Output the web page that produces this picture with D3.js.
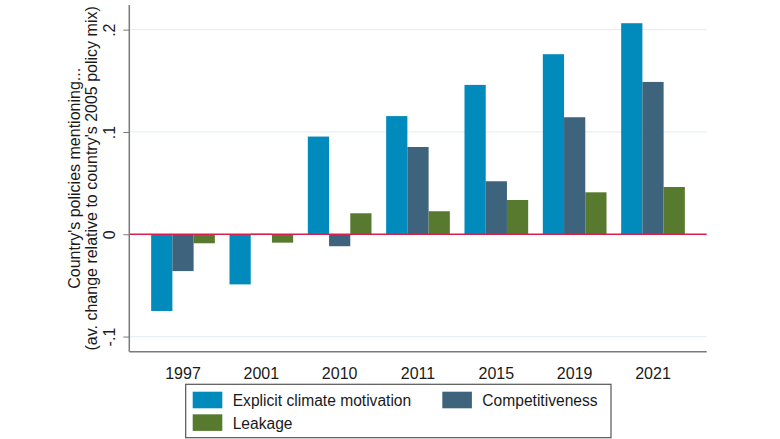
<!DOCTYPE html>
<html>
<head>
<meta charset="utf-8">
<script src="https://cdn.jsdelivr.net/npm/d3@7"></script>
<style>
  body { margin: 0; background: #fff; }
  text { font-family: "Liberation Sans", Arial, sans-serif; fill: #1a1a1a; }
</style>
</head>
<body>
<div id="chart"></div>
<script>
var years = ["1997", "2001", "2010", "2011", "2015", "2019", "2021"];
var seriesNames = ["Explicit climate motivation", "Competitiveness", "Leakage"];
var explicitVals = [-0.075, -0.049, 0.0955, 0.1155, 0.146, 0.176, 0.2063];
var competVals = [-0.036, 0.0005, -0.0117, 0.0853, 0.0518, 0.1144, 0.1489];
var leakageVals = [-0.0088, -0.0082, 0.0205, 0.0225, 0.0335, 0.041, 0.0462];
var yTicks = [-0.1, 0, 0.1, 0.2];
var yTickLabels = ["-.1", "0", ".1", ".2"];
var colors = ["#008bbc", "#3e647d", "#587a2f"];

var width = 780, height = 439;
var plotLeft = 129.3, plotRight = 706.7, plotTop = 5, plotBottom = 351.7;

var svg = d3.select("#chart").append("svg")
  .attr("width", width)
  .attr("height", height);

var y = d3.scaleLinear()
  .domain([-0.1148, 0.2241])
  .range([plotBottom, plotTop]);

var x = d3.scaleBand()
  .domain(years)
  .range([plotLeft, plotRight])
  .paddingInner(0.187)
  .paddingOuter(0.279);

var xs = d3.scaleBand()
  .domain(seriesNames)
  .range([0, x.bandwidth()]);

var allVals = [explicitVals, competVals, leakageVals];
var rows = [];
years.forEach(function(yr, i) {
  seriesNames.forEach(function(s, j) {
    rows.push({year: yr, series: s, idx: j, value: allVals[j][i]});
  });
});

// grid lines
svg.append("g").selectAll("line")
  .data(yTicks.filter(function(d) { return d !== 0; }))
  .enter().append("line")
  .attr("x1", plotLeft).attr("x2", plotRight)
  .attr("y1", function(d) { return y(d); })
  .attr("y2", function(d) { return y(d); })
  .attr("stroke", "#e6f0f2")
  .attr("stroke-width", 1.2);

// bars
svg.append("g").selectAll("rect")
  .data(rows)
  .enter().append("rect")
  .attr("x", function(d) { return x(d.year) + xs(d.series); })
  .attr("width", xs.bandwidth())
  .attr("y", function(d) { return y(Math.max(0, d.value)); })
  .attr("height", function(d) { return Math.abs(y(d.value) - y(0)); })
  .attr("fill", function(d) { return colors[d.idx]; });

// zero line
svg.append("line")
  .attr("x1", plotLeft).attr("x2", plotRight)
  .attr("y1", y(0)).attr("y2", y(0))
  .attr("stroke", "#d81f4f")
  .attr("stroke-width", 1.3);

// y axis
var yAxis = d3.axisLeft(y)
  .tickValues(yTicks)
  .tickSize(6)
  .tickFormat(function(d, i) { return yTickLabels[i]; });
var ya = svg.append("g")
  .attr("transform", "translate(" + plotLeft + ",0)")
  .call(yAxis);
ya.select(".domain").attr("stroke", "#7a7a7a").attr("stroke-width", 1.5)
  .attr("d", "M0," + plotTop + "V" + plotBottom);
ya.selectAll(".tick line").attr("stroke", "#7a7a7a");
ya.selectAll(".tick text")
  .attr("font-size", "16px")
  .attr("fill", "#1a1a1a")
  .attr("x", 0).attr("dy", null)
  .attr("text-anchor", "middle")
  .attr("transform", "translate(-14,0) rotate(-90)");

// x axis
var xAxis = d3.axisBottom(x).tickSize(0).tickPadding(16);
var xa = svg.append("g")
  .attr("transform", "translate(0," + plotBottom + ")")
  .call(xAxis);
xa.select(".domain").attr("stroke", "#7a7a7a").attr("stroke-width", 1.5)
  .attr("d", "M" + plotLeft + ",0H" + plotRight);
xa.selectAll(".tick text").attr("font-size", "16px").attr("fill", "#1a1a1a");

// y title
var yt = svg.append("text")
  .attr("transform", "translate(0," + ((plotTop + plotBottom) / 2) + ") rotate(-90)")
  .attr("text-anchor", "middle")
  .attr("font-size", "16px");
yt.append("tspan").attr("x", 0).attr("y", 80).text("Country's policies mentioning...");
yt.append("tspan").attr("x", 0).attr("y", 97).text("(av. change relative to country's 2005 policy mix)");

// legend
var lg = svg.append("g");
lg.append("rect")
  .attr("x", 185.7).attr("y", 384.3)
  .attr("width", 425.3).attr("height", 53.4)
  .attr("fill", "#fff")
  .attr("stroke", "#555")
  .attr("stroke-width", 1.2);
var legendPos = [
  {sx: 192.7, sy: 391.7, tx: 232.7, ty: 406},
  {sx: 442.3, sy: 391.7, tx: 482.3, ty: 406},
  {sx: 192.7, sy: 414.3, tx: 232.7, ty: 428.5}
];
seriesNames.forEach(function(s, j) {
  var p = legendPos[j];
  lg.append("rect").attr("x", p.sx).attr("y", p.sy)
    .attr("width", 29.6).attr("height", 16.6).attr("fill", colors[j]);
  lg.append("text").attr("x", p.tx).attr("y", p.ty)
    .attr("font-size", "15.6px").text(s);
});
</script>
</body>
</html>
